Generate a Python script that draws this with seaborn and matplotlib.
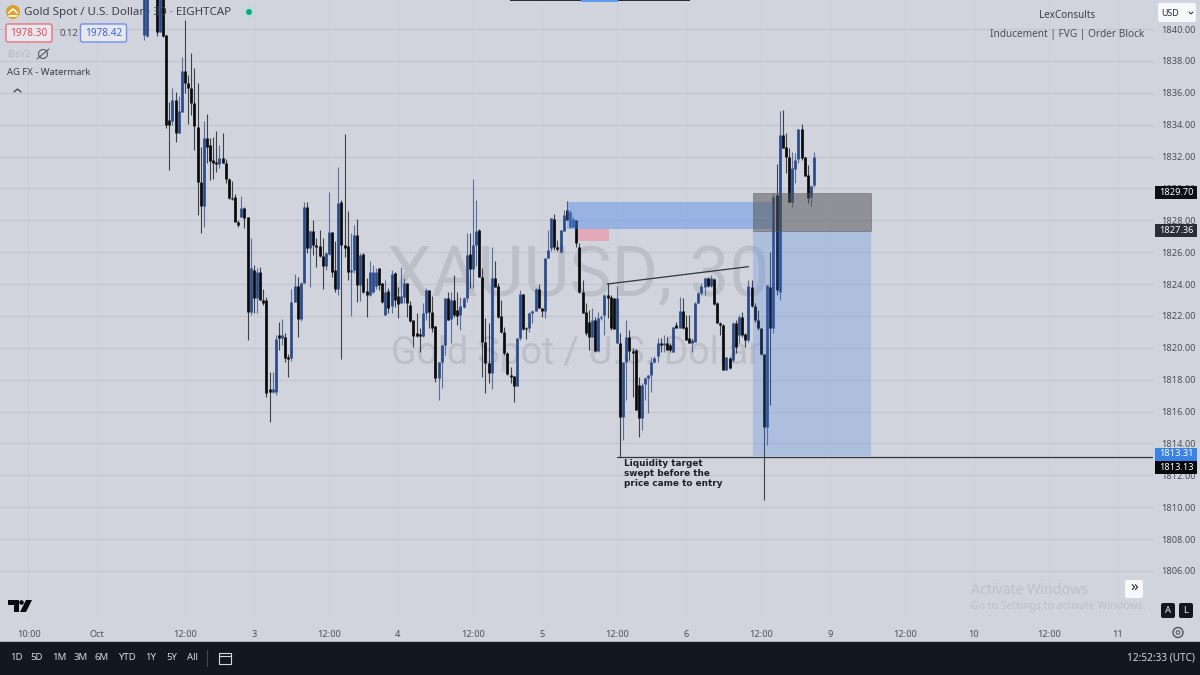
import numpy as np
import pandas as pd
import seaborn as sns
import matplotlib
matplotlib.use('Agg')
import matplotlib.pyplot as plt
from matplotlib.patches import Circle, FancyBboxPatch, Polygon, Rectangle

# XAUUSD 30 minute candles (first bars run off the top)
opens = [1839.62, 1839.56, 1843.0, 1843.0, 1843.0, 1839.83, 1843.5, 1839.62, 1834.29, 1834.25,
         1835.55, 1833.5, 1834.81, 1837.37, 1836.59, 1836.32, 1835.34, 1833.87, 1830.42, 1828.9,
         1833.14, 1832.72, 1831.78, 1831.64, 1831.53, 1831.93, 1831.57, 1830.59, 1829.38, 1829.44,
         1827.91, 1828.23, 1828.75, 1828.18, 1822.27, 1824.88, 1823.1, 1824.73, 1823.0, 1823.0,
         1817.39, 1817.25, 1817.25, 1820.8, 1820.59, 1820.66, 1819.41, 1819.34, 1822.89, 1823.88,
         1821.79, 1824.04, 1828.81, 1826.24, 1827.33, 1826.45, 1826.39, 1825.76, 1825.13, 1825.88,
         1827.24, 1824.88, 1823.67, 1829.17, 1826.45, 1826.39, 1824.78, 1824.88, 1827.08, 1823.94,
         1825.86, 1823.58, 1823.31, 1823.52, 1823.9, 1824.99, 1824.05, 1822.06, 1823.56, 1822.64,
         1824.67, 1823.25, 1822.79, 1823.21, 1824.05, 1822.69, 1821.75, 1820.91, 1820.87, 1820.74,
         1822.21, 1823.63, 1822.27, 1821.39, 1818.09, 1819.09, 1820.18, 1823.1, 1821.79, 1823.0,
         1822.37, 1822.06, 1822.58, 1823.1, 1825.87, 1824.95, 1826.45, 1827.39, 1824.46, 1820.39,
         1819.03, 1818.4, 1824.36, 1823.9, 1822.02, 1821.01, 1819.65, 1818.3, 1818.23, 1817.63,
         1820.6, 1823.36, 1821.22, 1821.22, 1822.16, 1822.33, 1823.69, 1822.48, 1822.33, 1825.61,
         1826.24, 1828.06, 1826.35, 1826.03, 1827.35, 1828.65, 1827.56, 1827.56, 1828.02, 1826.35,
         1823.52, 1822.27, 1821.64, 1820.7, 1821.75, 1819.82, 1821.85, 1822.06, 1823.31, 1823.21,
         1823.1, 1820.32, 1820.32, 1815.68, 1819.13, 1820.69, 1819.82, 1819.86, 1817.66, 1815.57,
         1817.72, 1818.08, 1818.29, 1819.13, 1819.48, 1820.32, 1820.17, 1820.32, 1820.17, 1819.75,
         1821.43, 1821.26, 1822.33, 1821.32, 1820.59, 1820.32, 1820.38, 1822.83, 1823.41, 1823.83,
         1824.35, 1823.87, 1824.29, 1822.83, 1821.53, 1821.43, 1818.6, 1819.33, 1819.23, 1821.53,
         1820.8, 1821.91, 1820.86, 1820.49, 1823.83, 1822.62, 1821.74, 1821.22, 1819.6, 1815.05,
         1823.83, 1821.22, 1829.6, 1823.52, 1833.35, 1832.62, 1831.99, 1829.17, 1831.22, 1831.83,
         1833.71, 1831.95, 1830.84, 1829.48, 1830.19]
highs = [1844.0, 1843.5, 1844.0, 1844.0, 1844.0, 1843.5, 1844.0, 1839.62, 1835.44, 1836.28,
         1836.07, 1835.82, 1838.22, 1840.56, 1837.11, 1838.47, 1837.57, 1836.59, 1832.62, 1834.25,
         1834.67, 1833.14, 1833.25, 1833.62, 1832.72, 1833.45, 1831.82, 1830.63, 1830.49, 1829.63,
         1828.02, 1829.54, 1828.81, 1828.18, 1826.87, 1825.19, 1824.99, 1825.09, 1823.67, 1823.21,
         1818.5, 1818.5, 1820.8, 1821.64, 1821.79, 1820.91, 1819.61, 1823.67, 1824.63, 1824.46,
         1824.15, 1829.17, 1829.17, 1827.39, 1828.02, 1826.87, 1827.39, 1826.87, 1826.03, 1829.8,
         1827.29, 1826.72, 1831.36, 1829.27, 1833.39, 1828.6, 1827.18, 1827.7, 1828.08, 1825.97,
         1825.93, 1824.36, 1825.47, 1825.19, 1825.0, 1824.99, 1824.05, 1824.25, 1823.73, 1824.88,
         1824.78, 1823.84, 1825.09, 1824.36, 1824.05, 1822.94, 1821.75, 1822.16, 1821.22, 1822.83,
         1823.77, 1823.63, 1823.25, 1821.39, 1819.09, 1820.18, 1823.1, 1823.48, 1823.52, 1824.57,
         1823.52, 1823.21, 1823.2, 1827.18, 1827.18, 1830.57, 1829.27, 1827.43, 1824.99, 1821.85,
         1821.54, 1826.35, 1825.45, 1824.05, 1823.0, 1821.33, 1819.76, 1818.82, 1818.2, 1820.6,
         1823.63, 1823.36, 1821.33, 1822.27, 1822.37, 1823.73, 1823.98, 1822.5, 1825.66, 1827.39,
         1828.17, 1828.37, 1826.76, 1827.39, 1828.65, 1829.21, 1828.65, 1828.23, 1828.02, 1826.56,
         1824.25, 1822.83, 1822.37, 1822.48, 1821.95, 1822.27, 1822.06, 1823.38, 1824.05, 1823.31,
         1823.1, 1823.87, 1820.9, 1819.13, 1821.74, 1821.11, 1820.0, 1819.9, 1818.18, 1817.77,
         1818.18, 1818.29, 1819.44, 1819.48, 1820.59, 1820.59, 1820.8, 1820.65, 1820.32, 1821.32,
         1821.64, 1823.16, 1823.1, 1822.05, 1822.05, 1820.6, 1822.89, 1823.52, 1824.04, 1824.46,
         1824.42, 1824.56, 1824.35, 1822.89, 1821.64, 1821.49, 1819.4, 1819.4, 1821.64, 1821.74,
         1822.05, 1822.26, 1820.9, 1824.25, 1824.25, 1822.79, 1822.37, 1821.22, 1819.6, 1823.94,
         1826.03, 1829.7, 1831.53, 1834.88, 1834.92, 1833.46, 1832.52, 1832.31, 1832.2, 1833.75,
         1834.04, 1831.95, 1831.47, 1830.21, 1832.31]
lows = [1839.31, 1839.5, 1842.5, 1842.5, 1839.56, 1839.8, 1839.5, 1833.77, 1831.15, 1833.98,
        1832.93, 1833.45, 1834.81, 1836.0, 1834.02, 1834.6, 1832.41, 1828.33, 1827.22, 1827.56,
        1831.57, 1830.53, 1830.57, 1831.05, 1831.26, 1831.57, 1830.36, 1829.31, 1829.27, 1827.91,
        1827.6, 1828.23, 1827.49, 1820.49, 1822.06, 1822.16, 1822.2, 1823.0, 1822.68, 1816.93,
        1815.37, 1817.14, 1817.04, 1819.86, 1820.18, 1819.13, 1818.19, 1819.19, 1822.89, 1820.7,
        1821.7, 1824.04, 1825.93, 1823.79, 1825.82, 1825.09, 1825.72, 1823.67, 1824.88, 1825.82,
        1824.42, 1823.52, 1823.31, 1819.28, 1825.72, 1824.25, 1821.99, 1824.71, 1822.89, 1822.96,
        1823.46, 1821.95, 1823.25, 1823.42, 1823.7, 1823.6, 1822.79, 1822.06, 1822.16, 1822.16,
        1822.58, 1821.85, 1822.79, 1822.79, 1821.95, 1821.64, 1820.07, 1820.7, 1819.76, 1820.7,
        1821.75, 1821.22, 1821.01, 1817.88, 1816.73, 1817.5, 1819.55, 1821.75, 1820.28, 1821.95,
        1821.43, 1821.12, 1822.48, 1822.9, 1823.73, 1823.73, 1825.13, 1824.46, 1818.19, 1817.14,
        1817.77, 1817.4, 1823.84, 1821.85, 1820.91, 1819.55, 1818.3, 1817.77, 1816.62, 1817.63,
        1820.49, 1821.12, 1820.53, 1821.0, 1821.58, 1822.3, 1822.48, 1821.95, 1821.85, 1825.61,
        1826.1, 1826.14, 1826.1, 1825.93, 1827.35, 1828.02, 1827.5, 1827.5, 1826.35, 1823.42,
        1822.2, 1820.8, 1819.86, 1820.7, 1819.76, 1819.76, 1821.75, 1820.8, 1821.85, 1821.12,
        1821.15, 1820.3, 1813.17, 1814.21, 1816.72, 1819.23, 1816.93, 1816.09, 1814.42, 1814.84,
        1816.72, 1815.88, 1817.24, 1819.06, 1819.1, 1819.75, 1819.75, 1819.86, 1819.75, 1819.75,
        1821.22, 1821.22, 1821.2, 1820.49, 1820.28, 1819.75, 1820.45, 1822.8, 1823.3, 1823.31,
        1823.83, 1823.83, 1822.68, 1821.53, 1820.8, 1818.6, 1818.6, 1818.7, 1819.13, 1819.65,
        1820.28, 1820.69, 1820.07, 1820.38, 1822.58, 1821.64, 1821.11, 1819.54, 1810.45, 1813.9,
        1816.41, 1820.9, 1823.3, 1823.0, 1832.52, 1830.95, 1829.17, 1828.86, 1830.36, 1831.57,
        1831.78, 1830.78, 1829.11, 1828.9, 1830.1]
closes = [1843.5, 1843.0, 1843.5, 1843.5, 1839.79, 1843.0, 1839.56, 1833.98, 1833.98, 1835.55,
          1833.45, 1834.86, 1837.37, 1836.59, 1836.28, 1835.34, 1833.91, 1830.42, 1828.9, 1833.14,
          1832.62, 1831.74, 1831.57, 1831.55, 1831.89, 1831.57, 1830.59, 1829.38, 1829.33, 1827.91,
          1827.7, 1828.75, 1828.12, 1822.27, 1824.99, 1823.1, 1824.73, 1823.0, 1822.79, 1817.18,
          1817.25, 1817.39, 1820.53, 1820.59, 1820.8, 1819.34, 1819.28, 1822.89, 1823.88, 1821.79,
          1824.09, 1828.81, 1826.24, 1827.33, 1826.45, 1826.3, 1825.76, 1825.13, 1825.97, 1827.29,
          1824.78, 1823.67, 1829.06, 1826.45, 1826.24, 1824.78, 1824.88, 1827.08, 1823.94, 1825.82,
          1823.52, 1823.31, 1824.78, 1824.73, 1824.78, 1823.94, 1822.9, 1823.52, 1822.48, 1824.61,
          1823.0, 1822.75, 1823.27, 1824.05, 1822.79, 1821.7, 1820.74, 1820.74, 1820.74, 1822.16,
          1823.63, 1822.27, 1821.22, 1818.09, 1819.09, 1820.18, 1823.1, 1821.75, 1823.0, 1822.06,
          1822.0, 1822.62, 1823.1, 1825.82, 1824.95, 1826.45, 1827.33, 1824.46, 1820.39, 1819.03,
          1818.4, 1824.36, 1823.84, 1821.95, 1821.01, 1819.65, 1818.36, 1818.19, 1817.63, 1820.6,
          1823.36, 1821.18, 1821.16, 1822.16, 1822.33, 1823.69, 1822.48, 1822.33, 1825.66, 1826.14,
          1828.12, 1826.35, 1826.18, 1827.39, 1828.33, 1828.02, 1828.54, 1828.06, 1826.6, 1823.52,
          1822.2, 1820.91, 1820.7, 1821.75, 1819.82, 1821.85, 1821.95, 1823.31, 1823.1, 1821.22,
          1821.15, 1823.1, 1815.68, 1819.13, 1820.69, 1819.82, 1819.7, 1816.09, 1815.57, 1817.66,
          1818.08, 1818.29, 1819.13, 1819.34, 1820.28, 1820.17, 1820.32, 1819.86, 1819.86, 1821.32,
          1821.22, 1822.33, 1821.26, 1820.49, 1820.32, 1820.49, 1822.83, 1823.41, 1823.87, 1824.35,
          1823.87, 1824.35, 1822.74, 1821.57, 1821.43, 1818.6, 1819.4, 1818.71, 1821.53, 1820.07,
          1821.91, 1820.8, 1820.49, 1823.87, 1822.62, 1821.74, 1821.22, 1819.6, 1815.05, 1823.94,
          1821.22, 1829.48, 1823.6, 1833.35, 1832.52, 1831.99, 1829.17, 1831.26, 1831.78, 1833.71,
          1831.89, 1830.78, 1829.38, 1830.17, 1831.99]

price_ticks = [1840, 1838, 1836, 1834, 1832, 1830, 1828, 1826, 1824, 1822,
               1820, 1818, 1816, 1814, 1812, 1810, 1808, 1806]
time_bars = [-37, -15, 13, 35, 59, 81, 105, 127, 151, 173, 197, 219, 243, 265, 289, 311]
time_labels = ['10:00', 'Oct', '12:00', '3', '12:00', '4', '12:00', '5', '12:00', '6',
               '12:00', '9', '12:00', '10', '12:00', '11']
range_buttons = ['1D', '5D', '1M', '3M', '6M', 'YTD', '1Y', '5Y', 'All']
range_button_x = [16, 37, 59, 81, 102, 127, 151, 172, 192]

# last-price style tags on the right axis: (value, colour)
axis_tags = [('1829.70', '#0c0f16', 192.5), ('1827.36', '#2a2e39', 230.5),
             ('1813.31', '#3b82e6', 454), ('1813.13', '#06070a', 467.5)]

BG = '#d1d4dc'
UP = '#2b4a88'
DOWN = '#08090d'
FONT = ['Noto Sans', 'DejaVu Sans']
TEXT = '#4a4e59'


def px_to_bar(px):
    """Chart pixel column to bar number, bars sit 3.13 px apart."""
    return (px - 144.3) / 3.13


def py_to_price(py):
    """Chart pixel row to price, 2 points are 31.88 px."""
    return 1840 - (py - 29) / 15.94


def candle_frames():
    df = pd.DataFrame({'bar': np.arange(len(opens)), 'open': opens, 'high': highs,
                       'low': lows, 'close': closes})
    df['direction'] = np.where(df['close'] >= df['open'], 'up', 'down')
    wicks = df.melt(id_vars=['bar', 'direction'], value_vars=['low', 'high'], value_name='price')
    bodies = df.melt(id_vars=['bar', 'direction'], value_vars=['open', 'close'], value_name='price')
    return wicks, bodies


def draw_chart(ax):
    ax.set_facecolor(BG)
    ax.set_xlim(px_to_bar(0), px_to_bar(1153))
    ax.set_ylim(py_to_price(620), py_to_price(0))

    # watermark sits behind everything
    mid = px_to_bar(578)
    ax.text(mid, py_to_price(277), 'XAUUSD, 30', fontsize=51, color='#bcbfc8', ha='center',
            va='center', family=['Roboto', 'DejaVu Sans'], zorder=1)
    ax.text(px_to_bar(576), py_to_price(353), 'Gold Spot / U.S. Dollar', fontsize=27, color='#bcbfc8',
            ha='center', va='center', family=['Roboto', 'DejaVu Sans'], zorder=1)

    wicks, bodies = candle_frames()
    palette = {'up': UP, 'down': DOWN}
    sns.lineplot(data=wicks, x='bar', y='price', units='bar', estimator=None, hue='direction',
                 palette=palette, legend=False, sort=False, lw=0.8, alpha=0.72,
                 solid_capstyle='butt', zorder=2, ax=ax)
    sns.lineplot(data=bodies, x='bar', y='price', units='bar', estimator=None, hue='direction',
                 palette=palette, legend=False, sort=False, lw=1.95,
                 solid_capstyle='butt', zorder=2.1, ax=ax)

    # drawings on top of the candles
    ax.add_patch(Rectangle((135, 1827.43), 66, 1.73, fc='#4a86e8', alpha=0.42, lw=0, zorder=3))
    ax.add_patch(Rectangle((138.6, 1826.72), 9.9, 0.71, fc='#ea9db0', alpha=0.8, lw=0, zorder=3))
    ax.add_patch(Rectangle((194.6, 1813.23), 37.5, 14.09, fc='#3f7de8', alpha=0.24, lw=0, zorder=3))
    ax.add_patch(Rectangle((194.6, 1827.32), 37.5, 2.41, fc='#505052', alpha=0.5, ec='#55565c',
                           lw=0.6, zorder=3.1))
    ax.plot([147.9, 193], [1824.0, 1825.09], color='#33353c', lw=0.9, zorder=3.2)
    ax.plot([151, px_to_bar(1153)], [1813.13, 1813.13], color='#33353c', lw=0.9, zorder=3.2)
    ax.text(px_to_bar(624), py_to_price(459), 'Liquidity target\nswept before the\nprice came to entry',
            fontsize=6.4, fontweight='bold', color='#1f2128', va='top', ha='left',
            linespacing=1.14, family=['DejaVu Sans'], zorder=4)

    ax.set_yticks(price_ticks)
    ax.set_yticklabels([f'{p:.2f}' for p in price_ticks])
    ax.yaxis.tick_right()
    ax.set_xticks(time_bars)
    ax.set_xticklabels(time_labels)
    ax.tick_params(axis='both', length=0, labelsize=6.6, labelcolor=TEXT)
    ax.tick_params(axis='y', pad=6)
    ax.tick_params(axis='x', pad=7)
    for lab in ax.get_xticklabels() + ax.get_yticklabels():
        lab.set_family(FONT)
    ax.grid(axis='y', color='#c3c6cf', lw=0.9)
    ax.grid(axis='x', color='#cdd0d8', lw=0.6)
    ax.set_axisbelow(True)
    ax.set_xlabel('')
    ax.set_ylabel('')
    sns.despine(ax=ax, left=True, bottom=True, right=True, top=True)


def label(ui, x, y, s, size=7.2, color=TEXT, ha='left', **kw):
    ui.text(x, y, s, fontsize=size, color=color, ha=ha, va='center', family=FONT, **kw)


def rounded(ui, x0, y0, x1, y1, fc, ec='none', lw=1.0, z=5):
    ui.add_patch(FancyBboxPatch((x0, y0), x1 - x0, y1 - y0, boxstyle='round,pad=0,rounding_size=2',
                                fc=fc, ec=ec, lw=lw, zorder=z))


def draw_interface(ui):
    # header legend
    ui.add_patch(Circle((13, 12), 7, fc='#dd9f26', ec='none', zorder=6))
    ui.plot([8.5, 13, 17.5], [13, 9, 13], color='white', lw=1.2, zorder=7)
    ui.plot([9, 17], [15.5, 15.5], color='white', lw=1.2, zorder=7)
    label(ui, 24, 12.5, 'Gold Spot / U.S. Dollar · 30 · EIGHTCAP', size=8.3, color='#3b3f4a', zorder=6)
    ui.add_patch(Circle((249, 12), 6, fc='#bfdcd8', ec='none', zorder=6))
    ui.add_patch(Circle((249, 12), 3, fc='#0fa882', ec='none', zorder=7))
    rounded(ui, 6, 24, 52, 42, '#e6e8ed', '#ee6f7c')
    label(ui, 29, 33, '1978.30', ha='center', color='#e4485a', zorder=6)
    label(ui, 60, 33, '0.12', size=6.8, zorder=6)
    rounded(ui, 80.5, 24, 126.5, 42, '#e6e8ed', '#6f8ff0')
    label(ui, 103.5, 33, '1978.42', ha='center', color='#3d62e0', zorder=6)
    label(ui, 7, 54.5, 'lBsV2', size=6.5, color='#b4b7c0', zorder=6)
    ui.add_patch(Circle((43, 54), 4.5, fc='none', ec='#55585f', lw=0.8, zorder=6))
    ui.plot([37, 49], [59, 49], color='#55585f', lw=0.8, zorder=6)
    label(ui, 7, 72.5, 'AG FX - Watermark', size=6.8, color='#3b3f4a', zorder=6)
    ui.plot([14, 17.5, 21], [92, 89, 92], color='#3b3f4a', lw=0.9, zorder=6)
    ui.add_patch(Rectangle((510, 0), 180, 1.2, fc='#2b2e38', ec='none', zorder=6))
    ui.add_patch(Rectangle((581, 0), 37, 1.6, fc='#5f9df0', ec='none', zorder=7))

    # top right notes
    label(ui, 1067, 16, 'LexConsults', size=7.1, ha='center', color='#3b3f4a', zorder=6)
    label(ui, 1067, 34, 'Inducement | FVG | Order Block', size=7.3, ha='center', zorder=6)
    rounded(ui, 1158, 3, 1196, 22, '#f6f7f9')
    label(ui, 1161, 13, 'USD', size=6.4, color='#2a2e39', zorder=6)
    ui.plot([1189, 1191, 1193], [12, 14, 12], color='#2a2e39', lw=0.7, zorder=6)

    # price tags on the right axis
    for text, colour, mid in axis_tags:
        ui.add_patch(Rectangle((1155, mid - 6.5), 42, 13, fc=colour, ec='none', zorder=6))
        ui.text(1176, mid, text, fontsize=6.6, color='white', fontweight='bold', ha='center',
                va='center', family=FONT, zorder=7)

    # tradingview logo
    ui.add_patch(Polygon([(8, 600), (19, 600), (19, 612), (14, 612), (14, 605), (8, 605)],
                         fc='#0a0b0f', ec='none', zorder=6))
    ui.add_patch(Circle((21.5, 602.5), 2.3, fc='#0a0b0f', ec='none', zorder=6))
    ui.add_patch(Polygon([(26, 600), (32, 600), (26, 612), (20, 612)], fc='#0a0b0f', ec='none', zorder=6))

    # windows nag, scroll button, auto/log, settings
    label(ui, 971, 590, 'Activate Windows', size=10.2, color='#bdc0c8', zorder=6)
    label(ui, 971, 607, 'Go to Settings to activate Windows.', size=7.5, color='#bdc0c8', zorder=6)
    rounded(ui, 1125, 580, 1143, 598, '#f7f8fa')
    label(ui, 1134, 588, '»', size=11, ha='center', color='#20232c', zorder=6)
    rounded(ui, 1161, 603, 1175, 618, '#131722')
    rounded(ui, 1179, 603, 1193, 618, '#131722')
    label(ui, 1168, 610.5, 'A', size=6.8, ha='center', color='#e8e9ee', fontweight='bold', zorder=6)
    label(ui, 1186, 610.5, 'L', size=6.8, ha='center', color='#e8e9ee', fontweight='bold', zorder=6)
    ui.add_patch(Circle((1178, 632.5), 5, fc='none', ec='#50545f', lw=1.0, zorder=6))
    ui.add_patch(Circle((1178, 632.5), 1.8, fc='none', ec='#50545f', lw=0.8, zorder=6))

    # bottom toolbar
    ui.add_patch(Rectangle((0, 642), 1200, 33, fc='#131722', ec='none', zorder=5))
    ui.add_patch(Rectangle((0, 640.5), 1200, 1.5, fc='#aeb1ba', ec='none', zorder=5))
    for name, x in zip(range_buttons, range_button_x):
        label(ui, x, 658, name, size=6.9, ha='center', color='#d6d8de', fontweight='medium', zorder=6)
    ui.plot([207, 207], [650, 666], color='#434752', lw=0.8, zorder=6)
    ui.add_patch(Rectangle((219, 653), 12, 11, fc='none', ec='#d6d8de', lw=0.8, zorder=6))
    ui.plot([219, 231], [656, 656], color='#d6d8de', lw=0.8, zorder=6)
    label(ui, 1195, 658, '12:52:33 (UTC)', size=7.2, ha='right', color='#d6d8de', zorder=6)


def main():
    sns.set_theme(style='white', rc={'figure.facecolor': BG, 'axes.facecolor': BG})
    plt.rcParams['font.family'] = FONT

    fig = plt.figure(figsize=(12, 6.75), dpi=100)
    ax = fig.add_axes([0, 55 / 675, 1153 / 1200, 620 / 675])
    draw_chart(ax)

    ui = fig.add_axes([0, 0, 1, 1], facecolor='none')
    ui.set_xlim(0, 1200)
    ui.set_ylim(675, 0)
    ui.axis('off')
    draw_interface(ui)

    fig.savefig('out.png', dpi=100, facecolor=BG)
    plt.close(fig)


if __name__ == "__main__":
    main()
